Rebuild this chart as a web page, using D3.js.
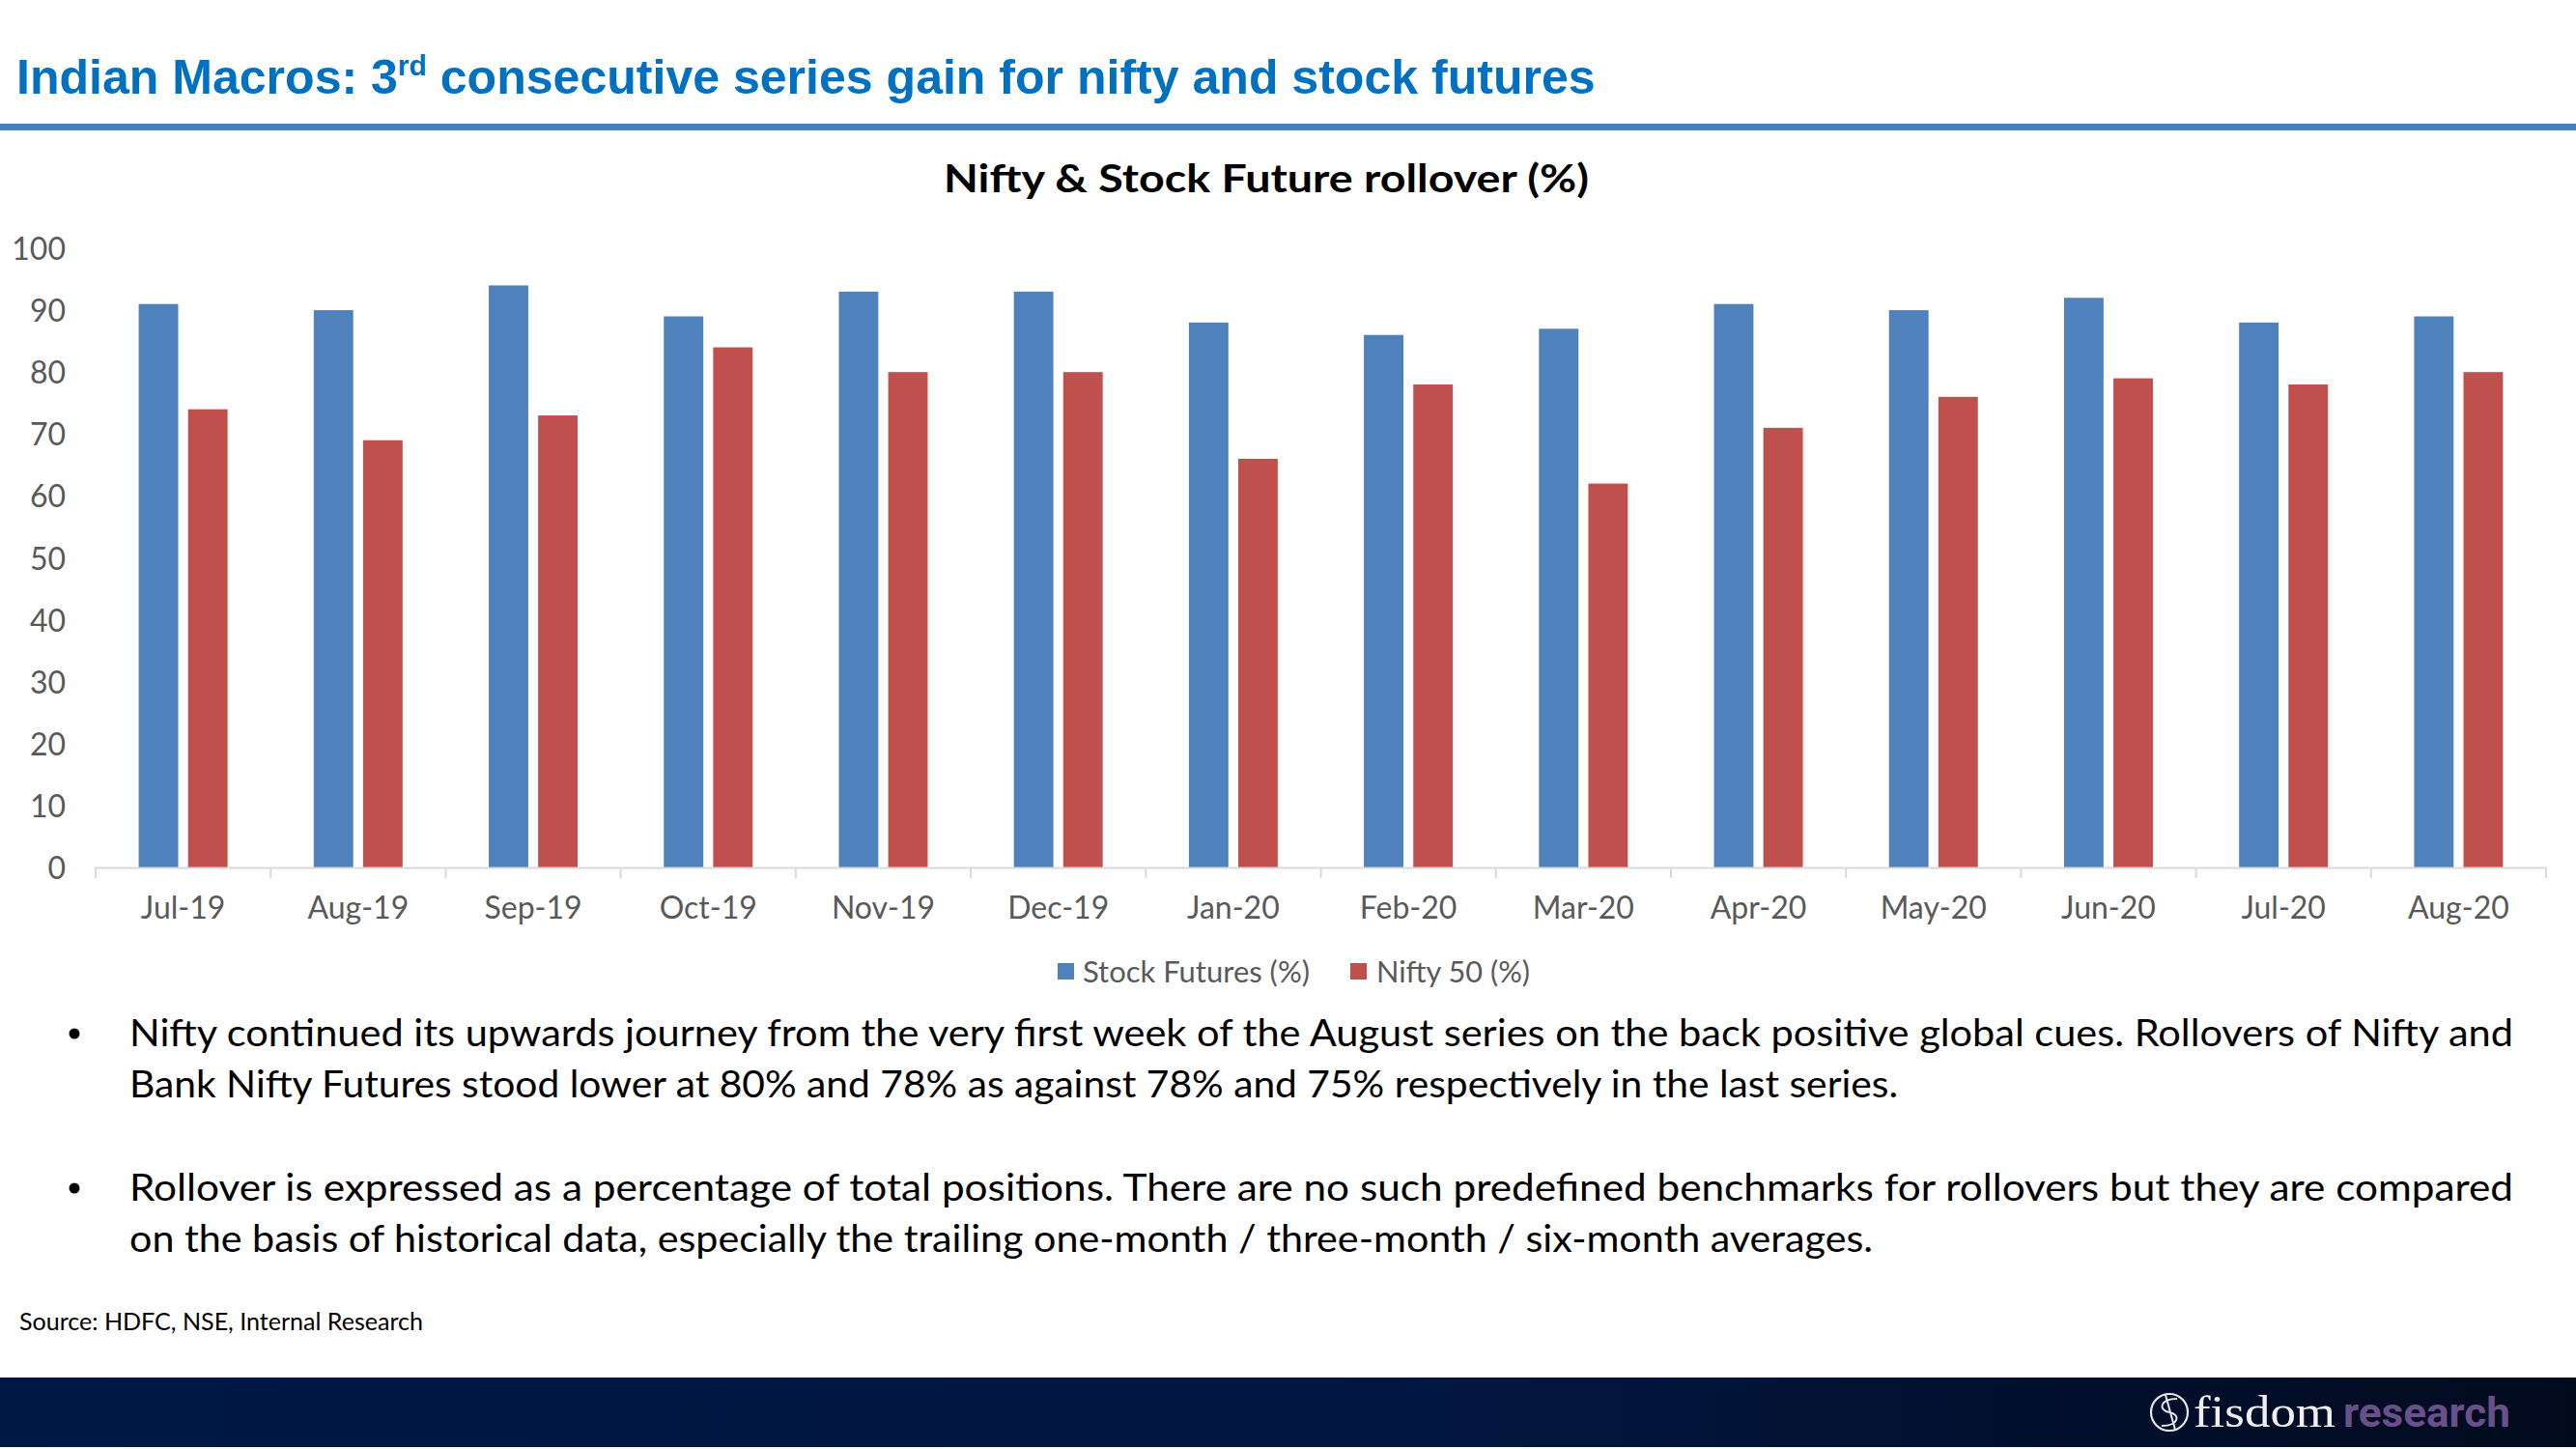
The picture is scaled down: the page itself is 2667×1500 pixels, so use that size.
<!DOCTYPE html>
<html>
<head>
<meta charset="utf-8">
<script src="https://cdn.jsdelivr.net/npm/d3@7"></script>
<style>
  html, body { margin: 0; padding: 0; background: #fff; }
  svg { display: block; }
  .tick-label { font-family: Lato, "Open Sans", sans-serif; fill: #595959; }
</style>
</head>
<body>
<div id="chart"></div>
<script>
// Nifty & Stock Future rollover (%) - grouped bars, Jul-19 .. Aug-20

const months = ["Jul-19", "Aug-19", "Sep-19", "Oct-19", "Nov-19", "Dec-19", "Jan-20",
                "Feb-20", "Mar-20", "Apr-20", "May-20", "Jun-20", "Jul-20", "Aug-20"];
const stockFutures = [91, 90, 94, 89, 93, 93, 88, 86, 87, 91, 90, 92, 88, 89];
const nifty50      = [74, 69, 73, 84, 80, 80, 66, 78, 62, 71, 76, 79, 78, 80];
const seriesNames  = ["Stock Futures (%)", "Nifty 50 (%)"];
const yTicks       = [0, 10, 20, 30, 40, 50, 60, 70, 80, 90, 100];

const bullets = [
  ["Nifty continued its upwards journey from the very first week of the August series on the back positive global cues. Rollovers of Nifty and",
   "Bank Nifty Futures stood lower at 80% and 78% as against 78% and 75% respectively in the last series."],
  ["Rollover is expressed as a percentage of total positions. There are no such predefined benchmarks for rollovers but they are compared",
   "on the basis of historical data, especially the trailing one-month / three-month / six-month averages."]
];

const W = 2667, H = 1500;
const colors = { "Stock Futures (%)": "#4F81BD", "Nifty 50 (%)": "#C0504D" };
const sans = "Lato, 'Open Sans', sans-serif";

const svg = d3.select("#chart").append("svg")
  .attr("width", W).attr("height", H);

// HEADER
const title = svg.append("text")
  .attr("font-family", "'Liberation Sans', Arial, sans-serif")
  .attr("font-weight", "bold")
  .attr("font-size", 50)
  .attr("fill", "#0070C0");
title.append("tspan").text("Indian Macros: 3");
title.append("tspan").attr("font-size", 30).attr("dy", -19).text("rd");
title.append("tspan").attr("dy", 19).text(" consecutive series gain for nifty and stock futures");
const tw = title.node().getComputedTextLength();
title.attr("transform", `translate(17,97) scale(${1635 / tw},1)`);

svg.append("rect")
  .attr("x", 0).attr("y", 128)
  .attr("width", W).attr("height", 7)
  .attr("fill", "#4A7EBB");

// CHART
const plot = { left: 99, right: 2636, top: 257, bottom: 898 };

svg.append("text")
  .attr("x", 1311).attr("y", 199)
  .attr("text-anchor", "middle")
  .attr("font-family", sans)
  .attr("font-weight", "bold")
  .attr("font-size", 40)
  .attr("fill", "#000")
  .attr("textLength", 668)
  .attr("lengthAdjust", "spacingAndGlyphs")
  .text("Nifty & Stock Future rollover (%)");

const x0 = d3.scaleBand()
  .domain(months)
  .range([plot.left, plot.right])
  .padding(0);

const x1 = d3.scaleBand()
  .domain(seriesNames)
  .range([-46, 46])
  .paddingInner(0.2);

const y = d3.scaleLinear()
  .domain([0, 100])
  .range([plot.bottom, plot.top]);

// y axis labels
const yAxis = svg.append("g")
  .attr("transform", `translate(${plot.left},0)`)
  .call(d3.axisLeft(y).tickValues(yTicks).tickSize(0).tickPadding(31));
yAxis.select(".domain").remove();
yAxis.selectAll("text")
  .attr("class", "tick-label")
  .attr("font-size", 32)
  .attr("dy", "0.36em");

// bars
const rows = months.map((m, i) => ({
  month: m,
  values: [
    { key: seriesNames[0], value: stockFutures[i] },
    { key: seriesNames[1], value: nifty50[i] }
  ]
}));

const groups = svg.append("g")
  .selectAll("g")
  .data(rows)
  .join("g")
  .attr("transform", d => `translate(${x0(d.month) + x0.bandwidth() / 2},0)`);

groups.selectAll("rect")
  .data(d => d.values)
  .join("rect")
  .attr("x", d => x1(d.key))
  .attr("width", x1.bandwidth())
  .attr("y", d => y(d.value))
  .attr("height", d => y(0) - y(d.value))
  .attr("fill", d => colors[d.key]);

// x axis line, boundary ticks and labels
const xAxis = svg.append("g")
  .attr("transform", `translate(0,${plot.bottom})`)
  .call(d3.axisBottom(x0).tickSize(0).tickPadding(30));
xAxis.select(".domain")
  .attr("stroke", "#D9D9D9")
  .attr("stroke-width", 2);
xAxis.selectAll("text")
  .attr("class", "tick-label")
  .attr("font-size", 32);

const bounds = months.map(m => x0(m)).concat([x0.range()[1]]);
svg.append("g")
  .selectAll("line")
  .data(bounds)
  .join("line")
  .attr("x1", d => d).attr("x2", d => d)
  .attr("y1", plot.bottom).attr("y2", plot.bottom + 11)
  .attr("stroke", "#D9D9D9")
  .attr("stroke-width", 2);

// legend
const legendPos = [{ sq: 1095, tx: 1121, w: 235 }, { sq: 1398, tx: 1425, w: 159 }];
const legend = svg.append("g")
  .selectAll("g")
  .data(seriesNames)
  .join("g");
legend.append("rect")
  .attr("x", (d, i) => legendPos[i].sq)
  .attr("y", 997)
  .attr("width", 17).attr("height", 17)
  .attr("fill", d => colors[d]);
legend.append("text")
  .attr("class", "tick-label")
  .attr("x", (d, i) => legendPos[i].tx)
  .attr("y", 1017)
  .attr("font-size", 31)
  .attr("textLength", (d, i) => legendPos[i].w)
  .attr("lengthAdjust", "spacingAndGlyphs")
  .text(d => d);

// BULLETS
const lineWidths = [[2468, 1831], [2468, 1805]];
const bulletY = [1083, 1243];
bullets.forEach((lines, bi) => {
  svg.append("circle")
    .attr("cx", 77).attr("cy", bulletY[bi] - 13)
    .attr("r", 5.5)
    .attr("fill", "#000");
  lines.forEach((ln, li) => {
    svg.append("text")
      .attr("x", 134)
      .attr("y", bulletY[bi] + li * 53)
      .attr("font-family", sans)
      .attr("font-size", 38)
      .attr("fill", "#000")
      .attr("textLength", lineWidths[bi][li])
      .attr("lengthAdjust", "spacingAndGlyphs")
      .text(ln);
  });
});

svg.append("text")
  .attr("x", 20).attr("y", 1377)
  .attr("font-family", sans)
  .attr("font-size", 25)
  .attr("fill", "#000")
  .attr("textLength", 418)
  .attr("lengthAdjust", "spacingAndGlyphs")
  .text("Source: HDFC, NSE, Internal Research");

// FOOTER
const defs = svg.append("defs");
const grad = defs.append("linearGradient").attr("id", "footGrad");
grad.append("stop").attr("offset", "0%").attr("stop-color", "#001845");
grad.append("stop").attr("offset", "55%").attr("stop-color", "#011640");
grad.append("stop").attr("offset", "100%").attr("stop-color", "#020B1E");

svg.append("rect")
  .attr("x", 0).attr("y", 1426)
  .attr("width", W).attr("height", 72)
  .attr("fill", "url(#footGrad)");

// logo
const logo = svg.append("g").attr("transform", "translate(2246,1462)");
logo.append("circle")
  .attr("r", 19)
  .attr("fill", "none")
  .attr("stroke", "#E8E8F0")
  .attr("stroke-width", 2.2);
logo.append("path")
  .attr("d", "M8,-14 C-10,-14 -12,-2 0,0 C12,2 10,14 -8,14 M-4,-18 L6,18")
  .attr("fill", "none")
  .attr("stroke", "#E8E8F0")
  .attr("stroke-width", 2);

svg.append("text")
  .attr("x", 2271).attr("y", 1477)
  .attr("font-family", "'Liberation Serif', 'DejaVu Serif', serif")
  .attr("font-size", 46)
  .attr("fill", "#F0F0F4")
  .attr("textLength", 147)
  .attr("lengthAdjust", "spacingAndGlyphs")
  .text("fisdom");

svg.append("text")
  .attr("x", 2426).attr("y", 1477)
  .attr("font-family", "Roboto, 'Open Sans', sans-serif")
  .attr("font-weight", "bold")
  .attr("font-size", 42)
  .attr("fill", "#6A5088")
  .attr("textLength", 173)
  .attr("lengthAdjust", "spacingAndGlyphs")
  .text("research");
</script>
</body>
</html>
